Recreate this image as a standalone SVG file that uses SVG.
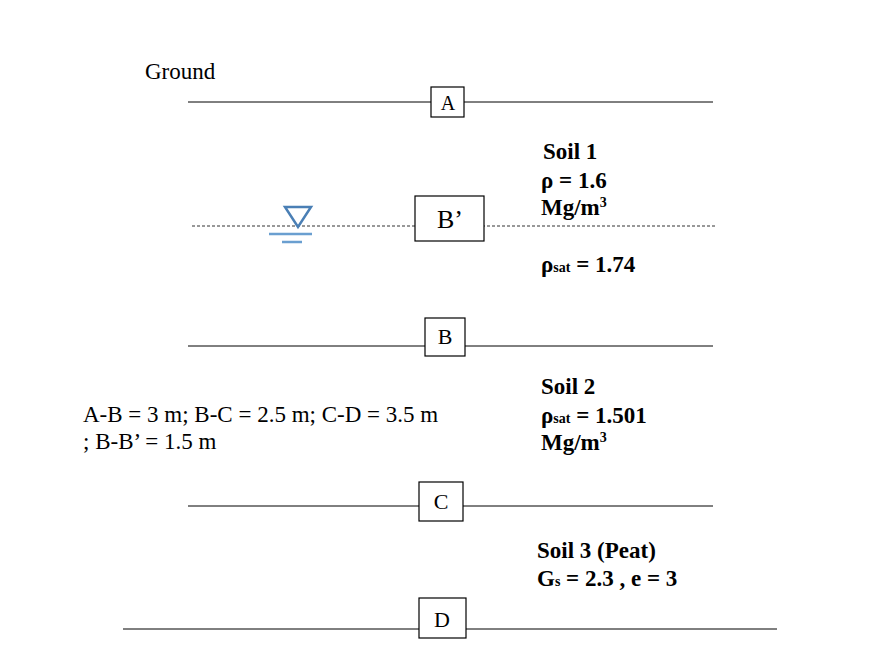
<svg xmlns="http://www.w3.org/2000/svg" width="870" height="667" viewBox="0 0 870 667">
<style>
.l{stroke:#000;stroke-width:1;fill:none}
.d{stroke:#333;stroke-width:1;stroke-dasharray:3,2;fill:none}
.b{fill:#fff;stroke:#000;stroke-width:1.2}
.t{font-family:"Liberation Serif",serif;font-size:23px;fill:#000}
.s{font-family:"Liberation Serif",serif;font-size:23px;font-weight:bold;fill:#000}
.bl{font-family:"Liberation Serif",serif;font-size:22px;fill:#000;text-anchor:middle}
</style>
<rect width="870" height="667" fill="#fff"/>
<g id="connectors">
<line class="l" x1="188" y1="102" x2="713" y2="102"/>
<line class="d" x1="192" y1="226" x2="717" y2="226"/>
<line class="l" x1="188" y1="346" x2="713" y2="346"/>
<line class="l" x1="188" y1="506" x2="713" y2="506"/>
<line class="l" x1="123" y1="629" x2="777" y2="629"/>
</g>
<g id="watertable">
<path d="M285,207 L311,207 L298,227 Z" fill="none" stroke="#4a7fb5" stroke-width="2.5"/>
<line x1="269" y1="234" x2="312" y2="234" stroke="#6a9fd0" stroke-width="2.5"/>
<line x1="282" y1="242" x2="302" y2="242" stroke="#6a9fd0" stroke-width="2.5"/>
</g>
<g id="A"><rect class="b" x="431" y="87" width="33" height="30"/><text class="bl" x="448" y="110" style="font-size:20px">A</text></g>
<g id="Bp"><rect class="b" x="415" y="196" width="69" height="45"/><text class="bl" x="450" y="228" style="font-size:26px">B’</text></g>
<g id="B"><rect class="b" x="425" y="318" width="40" height="38"/><text class="bl" x="445" y="344">B</text></g>
<g id="C"><rect class="b" x="419" y="482" width="44" height="39"/><text class="bl" x="441" y="509">C</text></g>
<g id="D"><rect class="b" x="419" y="598" width="47" height="40"/><text class="bl" x="442" y="627">D</text></g>
<text class="t" x="145" y="79">Ground</text>
<text class="s" x="543" y="159">Soil 1</text>
<text class="s" x="541" y="188">ρ = 1.6</text>
<text class="s" x="541" y="215">Mg/m<tspan font-size="14" dy="-8">3</tspan></text>
<text class="s" x="541" y="272">ρ<tspan font-size="14">sat</tspan> = 1.74</text>
<text class="s" x="541" y="394">Soil 2</text>
<text class="s" x="541" y="423">ρ<tspan font-size="14">sat</tspan> = 1.501</text>
<text class="s" x="541" y="450">Mg/m<tspan font-size="14" dy="-8">3</tspan></text>
<text class="t" x="83" y="422">A-B = 3 m; B-C = 2.5 m; C-D = 3.5 m</text>
<text class="t" x="83" y="449">; B-B’ = 1.5 m</text>
<text class="s" x="537" y="558">Soil 3 (Peat)</text>
<text class="s" x="537" y="586">G<tspan font-size="14">s</tspan> = 2.3 , e = 3</text>
</svg>
